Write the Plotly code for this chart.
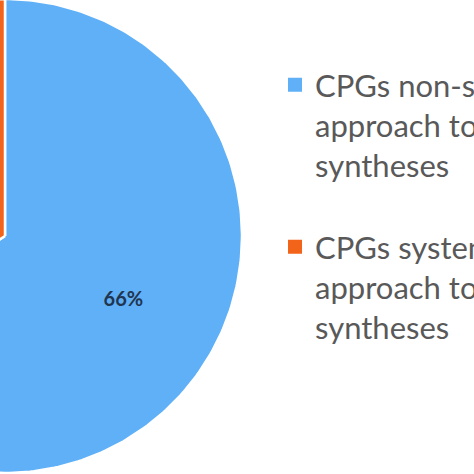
import numpy as np
import plotly.graph_objects as go

# slice data
labels = ["CPGs non-systematic<br>approach to<br>syntheses", "CPGs systematic<br>approach to<br>syntheses"]
values = [66, 34]
colors = ["#5FB0F7", "#F26419"]
pct_text = ["66%", ""]

fig = go.Figure()

# wedges drawn clockwise from 12 o'clock
total = sum(values)
start = 90.0
for i, v in enumerate(values):
    sweep = 360.0 * v / total
    ang = np.radians(np.linspace(start, start - sweep, 240))
    xs = np.concatenate([[0], np.cos(ang), [0]])
    ys = np.concatenate([[0], np.sin(ang), [0]])
    fig.add_trace(go.Scatter(
        x=xs, y=ys, mode="lines", fill="toself",
        fillcolor=colors[i], line=dict(color="white", width=2.5),
        showlegend=False, hoverinfo="skip"
    ))
    if pct_text[i]:
        mid = np.radians(start - sweep / 2)
        fig.add_trace(go.Scatter(
            x=[0.57 * np.cos(mid)], y=[0.57 * np.sin(mid)], mode="text",
            text=["<b>" + pct_text[i] + "</b>"],
            textfont=dict(family="Lato", size=20, color="#1F3550"),
            showlegend=False, hoverinfo="skip"
        ))
    start -= sweep

# legend entries
for i, lab in enumerate(labels):
    fig.add_trace(go.Scatter(
        x=[None], y=[None], mode="markers", name=lab,
        legendgroup=str(i),
        marker=dict(symbol="square", size=14, color=colors[i])
    ))

px = 237.0
fig.update_layout(
    width=474, height=474,
    margin=dict(l=0, r=0, t=0, b=0, autoexpand=False),
    paper_bgcolor="white", plot_bgcolor="white",
    xaxis=dict(range=[-5 / px, 469 / px], visible=False),
    yaxis=dict(range=[-238 / px, 236 / px], visible=False),
    legend=dict(
        x=0.5802, y=0.8773, xanchor="left", yanchor="top",
        font=dict(family="Lato", size=31, color="#595959"),
        valign="top", tracegroupgap=38, bgcolor="rgba(0,0,0,0)"
    ),
    showlegend=True
)

# drop the page's default body margin so the chart starts at the corner
fig.write_html("out.html", config={"displayModeBar": False},
               post_script="document.body.style.margin='0';")
